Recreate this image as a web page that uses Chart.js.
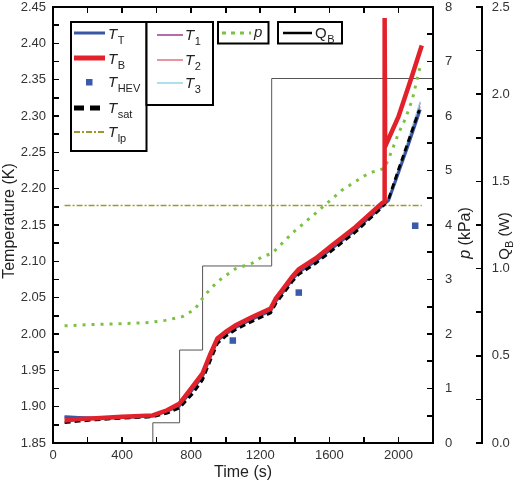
<!DOCTYPE html>
<html>
<head>
<meta charset="utf-8">
<script src="https://cdn.jsdelivr.net/npm/chart.js"></script>
<style>
body { margin: 0; background: #fff; }
#wrap { position: relative; width: 520px; height: 483px; }
canvas { display: block; position: absolute; left: 0; top: 0; }
#frame { position: absolute; left: 0; top: 0; width: 520px; height: 483px; pointer-events: none; }
#frame div { position: absolute; background: #000; }
</style>
</head>
<body>
<div id="wrap">
<canvas id="chart1" width="520" height="483"></canvas>
<div id="frame"></div>
</div>
<script>
// tick labels
var timeTicks = [0, 400, 800, 1200, 1600, 2000];
var tempTicks = ['1.85', '1.90', '1.95', '2.00', '2.05', '2.10', '2.15', '2.20', '2.25', '2.30', '2.35', '2.40', '2.45'];
var pTicks = ['0', '1', '2', '3', '4', '5', '6', '7', '8'];
var qTicks = ['0.0', '0.5', '1.0', '1.5', '2.0', '2.5'];

// T_B (bath)
var tbTime = [67, 150, 250, 400, 577, 660, 731, 809, 866, 910, 952, 1000, 1058, 1150, 1260, 1290, 1329, 1385, 1423, 1520, 1616, 1750, 1904, 1918, 1920, 1923, 2000, 2077, 2135];
var tbTemp = [1.881, 1.883, 1.884, 1.886, 1.888, 1.895, 1.904, 1.928, 1.946, 1.972, 1.994, 2.003, 2.012, 2.023, 2.035, 2.049, 2.061, 2.079, 2.089, 2.104, 2.122, 2.147, 2.180, 2.182, 2.435, 2.258, 2.299, 2.354, 2.397];

// T_T, T1, T2, T3 share the same sample times
var ttTime = [67, 150, 250, 400, 577, 660, 731, 809, 866, 910, 952, 1000, 1058, 1150, 1260, 1290, 1329, 1385, 1423, 1520, 1616, 1750, 1904, 1943, 2000, 2060, 2126];
var ttTemp = [1.886, 1.885, 1.884, 1.885, 1.887, 1.894, 1.901, 1.924, 1.942, 1.968, 1.991, 2.000, 2.009, 2.020, 2.032, 2.045, 2.057, 2.075, 2.085, 2.100, 2.118, 2.143, 2.176, 2.184, 2.222, 2.262, 2.309];
var t1Temp = [1.886, 1.885, 1.885, 1.886, 1.888, 1.895, 1.902, 1.925, 1.943, 1.969, 1.992, 2.001, 2.010, 2.021, 2.033, 2.046, 2.058, 2.076, 2.086, 2.101, 2.119, 2.144, 2.177, 2.186, 2.226, 2.268, 2.318];
var t2Temp = [1.885, 1.884, 1.884, 1.885, 1.887, 1.895, 1.902, 1.925, 1.943, 1.969, 1.992, 2.001, 2.010, 2.021, 2.033, 2.046, 2.058, 2.076, 2.086, 2.101, 2.119, 2.144, 2.177, 2.185, 2.224, 2.265, 2.313];
var t3Temp = [1.887, 1.886, 1.885, 1.886, 1.888, 1.896, 1.903, 1.926, 1.944, 1.970, 1.993, 2.002, 2.011, 2.022, 2.034, 2.047, 2.059, 2.077, 2.087, 2.102, 2.120, 2.145, 2.178, 2.187, 2.228, 2.271, 2.320];

// T_sat
var tsTime = [67, 150, 250, 400, 577, 660, 731, 809, 866, 910, 952, 1000, 1058, 1150, 1260, 1290, 1329, 1385, 1423, 1520, 1616, 1750, 1904, 1943, 2000, 2060, 2120];
var tsTemp = [1.878, 1.880, 1.882, 1.884, 1.886, 1.891, 1.898, 1.918, 1.937, 1.963, 1.987, 1.997, 2.006, 2.017, 2.029, 2.042, 2.054, 2.072, 2.082, 2.097, 2.115, 2.140, 2.174, 2.186, 2.226, 2.267, 2.308];

// T_HEV
var hevTime = [1041, 1423, 2097];
var hevTemp = [1.991, 2.057, 2.149];

// lambda point
var lpTime = [67, 2135];
var lpTemp = [2.177, 2.177];

// pressure p (kPa)
var pTime = [67, 200, 400, 558, 650, 750, 820, 866, 914, 980, 1058, 1154, 1212, 1269, 1385, 1520, 1673, 1827, 1920, 1960, 2000, 2040, 2080, 2131];
var pValue = [2.15, 2.17, 2.19, 2.21, 2.25, 2.32, 2.45, 2.655, 2.84, 3.03, 3.2, 3.3, 3.42, 3.48, 3.85, 4.215, 4.64, 4.95, 5.04, 5.35, 5.68, 5.95, 6.3, 6.98];

// heater power Q_B (W), steps
var qTime = [578, 578, 733, 866, 1266, 2200];
var qPower = [0, 0.116, 0.533, 1.015, 2.09, 2.09];

var FONT = 'Liberation Sans, Arial, sans-serif';

function pts(xs, ys){
    var out = [];
    for(var i = 0; i < xs.length; i++){
        out.push({x: xs[i], y: ys[i]});
    }
    return out;
}

function lineSet(label, xs, ys, color, width, axis, dash){
    return {
        label: label,
        data: pts(xs, ys),
        showLine: true,
        borderColor: color,
        backgroundColor: color,
        borderWidth: width,
        borderDash: dash || [],
        pointRadius: 0,
        yAxisID: axis
    };
}

// text pieces: [text, font, dy]
function richText(ctx, parts, x, y, angle){
    var total = 0;
    for(var i = 0; i < parts.length; i++){
        ctx.font = parts[i][1];
        total += ctx.measureText(parts[i][0]).width;
    }
    ctx.save();
    ctx.translate(x, y);
    ctx.rotate(angle);
    ctx.textBaseline = 'middle';
    ctx.textAlign = 'left';
    var cx = -total / 2;
    for(var i = 0; i < parts.length; i++){
        ctx.font = parts[i][1];
        ctx.fillText(parts[i][0], cx, parts[i][2]);
        cx += ctx.measureText(parts[i][0]).width;
    }
    ctx.restore();
}

function legendLabel(ctx, main, sub, x, y, italic){
    ctx.textBaseline = 'alphabetic';
    ctx.textAlign = 'left';
    ctx.font = (italic ? 'italic ' : '') + '15px ' + FONT;
    ctx.fillText(main, x, y);
    var w = ctx.measureText(main).width;
    if(sub){
        ctx.font = '11px ' + FONT;
        ctx.fillText(sub, x + w + 0.5, y + 5);
    }
}

function seg(ctx, x1, y1, x2, y2){
    ctx.beginPath();
    ctx.moveTo(x1, y1);
    ctx.lineTo(x2, y2);
    ctx.stroke();
}

// plot frame, Q_B axis line and inward ticks, as bars over the canvas
function bar(box, x, y, w, h){
    var d = document.createElement('div');
    d.style.left = x + 'px';
    d.style.top = y + 'px';
    d.style.width = w + 'px';
    d.style.height = h + 'px';
    box.appendChild(d);
}

function buildFrame(chart){
    var box = document.getElementById('frame');
    var a = chart.chartArea;
    var sx = chart.scales.x, sy = chart.scales.y, sp = chart.scales.yp, sq = chart.scales.yq;
    var i, px;
    box.innerHTML = '';
    bar(box, a.left - 1, a.top - 1, a.right - a.left + 2, 2);
    bar(box, a.left - 1, a.bottom - 1, a.right - a.left + 2, 2);
    bar(box, a.left - 1, a.top - 1, 2, a.bottom - a.top + 2);
    bar(box, a.right - 1, a.top - 1, 2, a.bottom - a.top + 2);
    bar(box, sq.left - 1, a.top - 1, 2, a.bottom - a.top + 2);
    for(i = 0; i <= 11; i++){
        px = sx.getPixelForValue(i * 200);
        bar(box, px - 0.8, a.bottom - 6, 1.6, 6);
        bar(box, px - 0.8, a.top, 1.6, 6);
    }
    for(i = 0; i <= 24; i++){
        px = sy.getPixelForValue(1.85 + i * 0.025);
        bar(box, a.left, px - 0.8, 6, 1.6);
    }
    for(i = 0; i <= 16; i++){
        px = sp.getPixelForValue(i * 0.5);
        bar(box, a.right - 6, px - 0.8, 6, 1.6);
    }
    for(i = 0; i <= 10; i++){
        px = sq.getPixelForValue(i * 0.25);
        bar(box, sq.left - 6, px - 0.8, 6, 1.6);
    }
}

var decorPlugin = {
    id: 'decor',
    afterDraw: function(chart){
        var ctx = chart.ctx;
        var a = chart.chartArea;
        var i;
        ctx.save();

        // axis titles
        ctx.fillStyle = '#222';
        var f16 = '16px ' + FONT;
        richText(ctx, [['Time (s)', f16, 0]], (a.left + a.right) / 2, 473, 0);
        richText(ctx, [['Temperature (K)', f16, 0]], 10, 221, -Math.PI / 2);
        richText(ctx, [['p', 'italic ' + f16, 0], [' (kPa)', f16, 0]], 466, 233, -Math.PI / 2);
        richText(ctx, [['Q', '15px ' + FONT, 0], ['B', '11px ' + FONT, 5], [' (W)', '15px ' + FONT, 0]], 505, 236, -Math.PI / 2);

        // legend boxes
        ctx.fillStyle = '#fff';
        ctx.strokeStyle = '#000';
        ctx.lineWidth = 2;
        var boxes = [[71, 22, 75.5, 129], [146.5, 22, 66.5, 83], [218, 22, 50.5, 21.5], [278, 22, 64, 21.5]];
        for(i = 0; i < boxes.length; i++){
            ctx.fillRect(boxes[i][0], boxes[i][1], boxes[i][2], boxes[i][3]);
            ctx.strokeRect(boxes[i][0], boxes[i][1], boxes[i][2], boxes[i][3]);
        }

        ctx.lineCap = 'butt';
        // T_T
        ctx.strokeStyle = '#3a56a5'; ctx.lineWidth = 3; ctx.setLineDash([]);
        seg(ctx, 74, 33, 105, 33);
        // T_B
        ctx.strokeStyle = '#e3212b'; ctx.lineWidth = 5;
        seg(ctx, 74, 58, 105, 58);
        // T_HEV
        ctx.fillStyle = '#3d5aa8';
        ctx.fillRect(86, 79, 6.5, 6.5);
        // T_sat
        ctx.strokeStyle = '#000'; ctx.lineWidth = 5; ctx.setLineDash([10, 6]);
        seg(ctx, 74, 108, 106, 108);
        // T_lp
        ctx.strokeStyle = '#9a9a2a'; ctx.lineWidth = 2; ctx.setLineDash([6, 2, 2, 2]);
        seg(ctx, 74, 132, 105, 132);
        // T1 T2 T3
        ctx.setLineDash([]); ctx.lineWidth = 1.5;
        ctx.strokeStyle = '#9b3b8f'; seg(ctx, 157, 35, 183, 35);
        ctx.strokeStyle = '#e07080'; seg(ctx, 157, 60, 183, 60);
        ctx.strokeStyle = '#8fd6e6'; seg(ctx, 157, 83, 183, 83);
        // p
        ctx.strokeStyle = '#7cc242'; ctx.lineWidth = 3; ctx.setLineDash([4, 5]);
        seg(ctx, 222, 33, 251, 33);
        // Q_B
        ctx.strokeStyle = '#000'; ctx.lineWidth = 2.5; ctx.setLineDash([]);
        seg(ctx, 283, 33, 312, 33);

        ctx.fillStyle = '#222';
        legendLabel(ctx, 'T', 'T', 108, 39, true);
        legendLabel(ctx, 'T', 'B', 108, 64, true);
        legendLabel(ctx, 'T', 'HEV', 108, 87, true);
        legendLabel(ctx, 'T', 'sat', 108, 113, true);
        legendLabel(ctx, 'T', 'lp', 108, 137, true);
        legendLabel(ctx, 'T', '1', 185, 40, true);
        legendLabel(ctx, 'T', '2', 185, 65, true);
        legendLabel(ctx, 'T', '3', 185, 88, true);
        legendLabel(ctx, 'p', null, 254, 37, true);
        legendLabel(ctx, 'Q', 'B', 315, 38, false);
        ctx.restore();
    }
};

function fixedTicks(list){
    return function(scale){
        scale.ticks = list.map(function(v){ return {value: parseFloat(v)}; });
    };
}

function tickLabel(list){
    return function(value, index){
        return String(list[index]);
    };
}

// fixed axis width, no extra label padding above/below the plot
function fixWidth(w){
    return function(s){
        s.width = w;
        s.paddingTop = 0;
        s.paddingBottom = 0;
    };
}

var tickFont = {family: FONT, size: 13};
var noGrid = {display: false, drawTicks: false, tickLength: 0};

var ctx = document.getElementById('chart1').getContext('2d');
var myChart = new Chart(ctx, {
    type: 'scatter',
    data: {
        datasets: [
            {
                label: 'T_HEV',
                data: pts(hevTime, hevTemp),
                showLine: false,
                pointStyle: 'rect',
                pointRadius: 4.6,
                backgroundColor: '#3d5aa8',
                borderWidth: 0,
                yAxisID: 'y'
            },
            lineSet('T_B', tbTime, tbTemp, '#e3212b', 4.5, 'y'),
            lineSet('T_sat', tsTime, tsTemp, '#000', 2.8, 'y', [6, 4]),
            lineSet('T_T', ttTime, ttTemp, '#3a56a5', 3, 'y'),
            lineSet('T_3', ttTime, t3Temp, '#8fd6e6', 1.2, 'y'),
            lineSet('T_2', ttTime, t2Temp, '#e07080', 1.2, 'y'),
            lineSet('T_1', ttTime, t1Temp, '#9b3b8f', 1.2, 'y'),
            lineSet('p', pTime, pValue, '#7cc242', 3, 'yp', [3, 6]),
            lineSet('T_lp', lpTime, lpTemp, '#9a9a2a', 1.5, 'y', [6, 2, 2, 2]),
            Object.assign(lineSet('Q_B', qTime, qPower, '#555', 1, 'yq'), {stepped: 'before'})
        ]
    },
    options: {
        responsive: false,
        animation: false,
        devicePixelRatio: 1,
        layout: {padding: {top: 7}},
        plugins: {legend: {display: false}, tooltip: {enabled: false}},
        elements: {line: {tension: 0}},
        scales: {
            x: {
                type: 'linear', position: 'bottom', min: 0, max: 2200,
                grid: noGrid,
                border: {display: false},
                ticks: {font: tickFont, color: '#333', padding: 5, maxRotation: 0, callback: tickLabel(timeTicks)},
                afterBuildTicks: fixedTicks(timeTicks),
                afterFit: function(s){ s.height = 40; s.paddingLeft = 0; s.paddingRight = 0; }
            },
            y: {
                type: 'linear', position: 'left', min: 1.85, max: 2.45,
                grid: noGrid,
                border: {display: false},
                ticks: {font: tickFont, color: '#333', padding: 7, callback: tickLabel(tempTicks)},
                afterBuildTicks: fixedTicks(tempTicks),
                afterFit: fixWidth(53)
            },
            yp: {
                type: 'linear', position: 'right', weight: 0, min: 0, max: 8,
                grid: noGrid,
                border: {display: false},
                ticks: {font: tickFont, color: '#333', padding: 12, callback: tickLabel(pTicks)},
                afterBuildTicks: fixedTicks(pTicks),
                afterFit: fixWidth(48.7)
            },
            yq: {
                type: 'linear', position: 'right', weight: 1, min: 0, max: 2.5,
                grid: noGrid,
                border: {display: false},
                ticks: {font: tickFont, color: '#333', padding: 10, callback: tickLabel(qTicks)},
                afterBuildTicks: fixedTicks(qTicks),
                afterFit: fixWidth(38.3)
            }
        }
    },
    plugins: [decorPlugin]
});

buildFrame(myChart);
</script>
</body>
</html>
